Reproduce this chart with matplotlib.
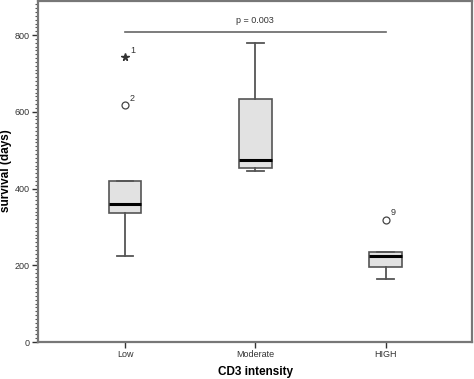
import matplotlib
matplotlib.use("Agg")
import matplotlib.pyplot as plt
from matplotlib.ticker import MultipleLocator

categories = ["Low", "Moderate", "HIGH"]
whislo = [225, 446, 165]
q1 = [335, 453, 195]
med = [360, 474, 225]
q3 = [420, 633, 235]
whishi = [420, 780, 235]
circle_out = [[617], [], [319]]
circle_lab = [["2"], [], ["9"]]
star_out = [[742], [], []]
star_lab = [["1"], [], []]
p_text = "p = 0.003"
p_y = 808

plt.rcParams['font.family'] = ['Liberation Sans', 'DejaVu Sans']

fig = plt.figure(figsize=(4.74, 3.79), dpi=100)
ax = fig.add_axes([0.080, 0.0976, 0.916, 0.899])

stats = []
for i, c in enumerate(categories):
    stats.append(dict(label=c, whislo=whislo[i], q1=q1[i], med=med[i],
                      q3=q3[i], whishi=whishi[i], fliers=[]))

edge = "#555555"
ax.bxp(stats, positions=range(len(categories)), widths=0.25, capwidths=0.128,
       patch_artist=True, showfliers=False,
       boxprops=dict(facecolor="#e2e2e2", edgecolor=edge, linewidth=1.2),
       whiskerprops=dict(color=edge, linewidth=1.3),
       capprops=dict(color=edge, linewidth=1.3),
       medianprops=dict(color="black", linewidth=2.2))

for i in range(len(categories)):
    for v, lab in zip(circle_out[i], circle_lab[i]):
        ax.plot(i, v, marker="o", ms=5, mfc="white", mec="#444444", mew=0.9, zorder=5)
        ax.annotate(lab, (i, v), xytext=(3.5, 3), textcoords="offset points",
                    fontsize=6.5, color="#333333")
    for v, lab in zip(star_out[i], star_lab[i]):
        ax.plot(i, v, marker="*", ms=5.5, color="#333333", zorder=5)
        ax.annotate(lab, (i, v), xytext=(3.5, 3), textcoords="offset points",
                    fontsize=6.5, color="#333333")

ax.plot([0, 2], [p_y, p_y], color="#666666", lw=1.2)
ax.text(1, p_y + 18, p_text, ha="center", va="bottom", fontsize=6.5, color="#333333")

ax.set_xlim(-0.67, 2.665)
ax.set_ylim(0, 888)
ax.set_xticks(range(len(categories)))
ax.set_xticklabels(categories)
ax.yaxis.set_major_locator(MultipleLocator(200))
ax.yaxis.set_minor_locator(MultipleLocator(10))
ax.tick_params(axis="both", which="major", labelsize=6.5, colors="#333333",
               length=4, width=1.0, labelcolor="#333333", pad=2)
ax.tick_params(axis="y", which="minor", length=2.5, width=0.8, colors="#555555")
for s in ax.spines.values():
    s.set_color("#777777")
    s.set_linewidth(1.6)

ax.set_xlabel("CD3 intensity", fontsize=8.5, fontweight="bold")
ax.set_ylabel("survival (days)", fontsize=8.5, fontweight="bold")
ax.xaxis.label.set_verticalalignment("center")
ax.yaxis.label.set_verticalalignment("center")
ax.xaxis.set_label_coords(0.5, -0.087)
ax.yaxis.set_label_coords(-0.073, 0.504)

fig.savefig("out.png", dpi=100)
